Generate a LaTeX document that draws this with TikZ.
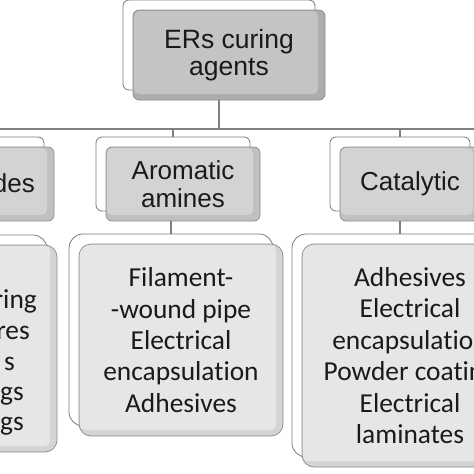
\documentclass[tikz,border=0pt]{standalone}
\usepackage{fontspec}
\setmainfont{Carlito}[Ligatures=NoCommon]
\newfontfamily\headfont{Liberation Sans}
\definecolor{txt}{HTML}{1A1A1A}
\definecolor{edge}{HTML}{8C8C8C}
\definecolor{backedge}{HTML}{7A7A7A}
\definecolor{conn}{HTML}{7F7F7F}
\definecolor{titlefill}{HTML}{C4C4C4}
\definecolor{titleshade}{HTML}{ADADAD}
\definecolor{headfill}{HTML}{D3D3D3}
\definecolor{headshade}{HTML}{C0C0C0}
\definecolor{listfill}{HTML}{E6E6E6}
\definecolor{listshade}{HTML}{D4D4D4}
\tikzset{
  bevel/.style 2 args={fill=#2, path picture={\fill[#1, rounded corners=5pt]
      ([xshift=1pt,yshift=-1pt]path picture bounding box.north west) rectangle
      ([xshift=-7pt,yshift=6pt]path picture bounding box.south east);}},
  frontbox/.style={rectangle, draw=edge, line width=0.7pt, inner sep=0pt, text=txt, align=center},
  backbox/.style={rectangle, draw=backedge, fill=white, line width=0.8pt, inner sep=0pt},
  titlebox/.style={frontbox, rounded corners=6pt, bevel={titlefill}{titleshade},
      minimum width=192pt, minimum height=90pt, font=\headfont\fontsize{26.5}{27}\selectfont},
  headbox/.style={frontbox, rounded corners=6pt, bevel={headfill}{headshade},
      minimum height=74pt, font=\headfont\fontsize{26}{28}\selectfont},
  listbox/.style={frontbox, rounded corners=12pt, bevel={listfill}{listshade},
      font=\fontsize{27.4}{31.4}\selectfont},
  frag/.style={anchor=base east, inner sep=0pt, text=txt},
  link/.style={draw=conn, line width=1.1pt},
}
\begin{document}
\begin{tikzpicture}[x=1pt, y=-1pt]
\useasboundingbox (0,0) rectangle (474,474);
\clip (0,0) rectangle (474,474);
% back boxes
\node[backbox, rounded corners=6pt, minimum width=192pt, minimum height=90pt] (titleB) at (219,45) {};
\node[backbox, rounded corners=6pt, minimum width=154pt, minimum height=74pt] (leftheadB) at (-33,174) {};
\node[backbox, rounded corners=6pt, minimum width=154pt, minimum height=74pt] (aromB) at (173,174) {};
\node[backbox, rounded corners=6pt, minimum width=140pt, minimum height=74pt] (catB) at (400,174) {};
\node[backbox, rounded corners=14pt, minimum width=204pt, minimum height=207pt] (leftlistB) at (-55,338.5) {};
\node[backbox, rounded corners=14pt, minimum width=204pt, minimum height=192pt] (aromlistB) at (171,330) {};
\node[backbox, rounded corners=14pt, minimum width=216pt, minimum height=223pt] (catlistB) at (400,345.5) {};
% front boxes
\node[titlebox] (title) at (229,55) {ERs curing\\agents};
\node[headbox, minimum width=154pt] (lefthead) at (-23,184) {};
\node[headbox, minimum width=154pt] (arom) at (183,184) {Aromatic\\amines};
\node[headbox, minimum width=140pt] (cat) at (410,184) {Catalytic};
\node[listbox, minimum width=204pt, minimum height=207pt] (leftlist) at (-45,348.5) {};
\node[listbox, minimum width=204pt, minimum height=192pt] (aromlist) at (181,340)
  {Filament-\\-wound pipe\\Electrical\\encapsulation\\Adhesives};
\node[listbox, minimum width=216pt, minimum height=223pt] (catlist) at (410,355.5)
  {Adhesives\\Electrical\\encapsulation\\Powder coating\\Electrical\\laminates};
% visible fragments of the cut-off column
\node[frag, font=\headfont\fontsize{26}{28}\selectfont] (des) at (35,192) {des};
\begin{scope}[every node/.style={frag, font=\fontsize{27.4}{31.4}\selectfont}]
\node (l1) at (37,308) {ring};
\node (l2) at (30,339) {res};
\node (l3) at (15,370) {s};
\node (l4) at (24,400) {gs};
\node (l5) at (24,430) {gs};
\end{scope}
% connectors
\coordinate (busL) at (-20,129);
\coordinate (busR) at (494,129);
\draw[link] (busL) -- (busR);
\draw[link] (title.south -| titleB.south) -- (titleB.south |- busL);
\draw[link] (leftheadB.north |- busL) -- (leftheadB.north);
\draw[link] (aromB.north |- busL) -- (aromB.north);
\draw[link] (catB.north |- busL) -- (catB.north);
\draw[link] (lefthead.south -| leftlistB.north) -- (leftlistB.north);
\draw[link] (arom.south -| aromlistB.north) -- (aromlistB.north);
\draw[link] (cat.south -| catlistB.north) -- (catlistB.north);
\end{tikzpicture}
\end{document}
